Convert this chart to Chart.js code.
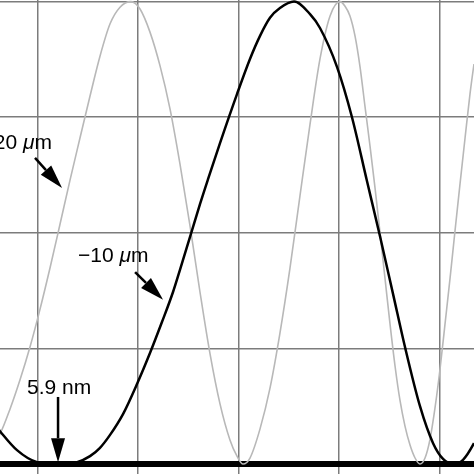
<!DOCTYPE html>
<html>
<head>
<meta charset="utf-8">
<script src="https://cdn.jsdelivr.net/npm/chart.js@4/dist/chart.umd.min.js"></script>
<style>
  html, body { margin: 0; padding: 0; background: #fff; }
  #wrap { width: 474px; height: 474px; }
</style>
</head>
<body>
<div id="wrap"><canvas id="chart"></canvas></div>
<script>
'use strict';

// grid positions (arbitrary units across, normalised intensity up)
const xTicks = [0, 100, 200, 300, 400];
const yTicks = [0, 0.25, 0.5, 0.75, 1];

// -20 um profile (light grey)
const grayX = [-71.9, -57.0, -47.0, -37.1, -27.1, -17.2, -7.3, 2.7, 12.6, 22.6, 32.5, 42.4,
  52.4, 62.3, 72.3, 82.2, 93.1, 102.1, 112.0, 122.0, 131.9, 141.8, 151.8, 161.7, 171.7, 181.6,
  191.5, 198.5, 204.5, 211.4, 221.4, 231.3, 241.2, 251.2, 261.1, 271.1, 281.0, 291.0, 300.9,
  305.9, 310.8, 315.8, 320.8, 325.7, 330.7, 335.7, 340.6, 345.6, 350.6, 355.6, 360.5, 365.5,
  370.5, 375.5, 380.4, 385.4, 390.4, 395.3, 400.3, 405.3, 410.3, 415.2, 420.2, 425.2, 430.1,
  434.1, 440.1, 447.1];
const grayY = [0, 0.017, 0.035, 0.065, 0.119, 0.182, 0.253, 0.335, 0.424, 0.519, 0.614, 0.705,
  0.796, 0.882, 0.952, 0.988, 1.0, 0.984, 0.934, 0.861, 0.768, 0.649, 0.515, 0.372, 0.238, 0.130,
  0.052, 0.017, 0, 0.013, 0.076, 0.164, 0.283, 0.424, 0.580, 0.735, 0.876, 0.969, 1.0,
  0.990, 0.969, 0.926, 0.859, 0.774, 0.688, 0.597, 0.502, 0.402, 0.303, 0.212, 0.138, 0.082,
  0.041, 0.013, 0, 0.013, 0.054, 0.121, 0.205, 0.303, 0.402, 0.504, 0.606, 0.705, 0.800,
  0.865, 0.952, 1.0];

// -10 um profile (black)
const blackX = [-52.0, -37.1, -20.2, -0.3, 19.6, 39.5, 52.4, 62.3, 72.3, 85.2, 99.1, 112.0,
  123.9, 134.9, 141.8, 151.8, 161.7, 169.7, 181.6, 198.5, 211.4, 221.4, 231.3, 241.2, 255.2,
  271.1, 281.0, 297.9, 312.8, 327.7, 340.6, 353.6, 365.5, 380.4, 393.4, 403.3, 413.3, 423.2,
  434.1, 445.0];
const blackY = [0.112, 0.071, 0.030, 0.004, 0, 0.004, 0.017, 0.035, 0.063, 0.108, 0.173, 0.240,
  0.307, 0.372, 0.420, 0.491, 0.562, 0.616, 0.694, 0.800, 0.876, 0.926, 0.965, 0.986, 1.0,
  0.973, 0.943, 0.859, 0.750, 0.612, 0.493, 0.368, 0.253, 0.125, 0.045, 0.011, 0, 0.009,
  0.045, 0.097];

// labels with arrows, in data coordinates
const notes = [
  { text: ['\u221220 ', '\u03bc', 'm'], x: 14.6, y: 0.681, align: 'right', from: [-2.3, 0.662], to: [24.6, 0.597] },
  { text: ['\u221210 ', '\u03bc', 'm'], x: 40.5, y: 0.437, align: 'left', from: [97.2, 0.415], to: [125.0, 0.355] },
  { text: ['5.9 nm', '', ''], x: -10.2, y: 0.151, align: 'left', from: [20.6, 0.145], to: [20.6, 0.004] }
];

function toPoints(xs, ys) {
  return xs.map((x, i) => ({ x: x, y: ys[i] }));
}

const FONT = '"Liberation Sans", Arial, sans-serif';

function drawArrow(ctx, x1, y1, x2, y2, head, half) {
  const a = Math.atan2(y2 - y1, x2 - x1);
  const bx = x2 - head * Math.cos(a), by = y2 - head * Math.sin(a);
  ctx.beginPath();
  ctx.moveTo(x1, y1);
  ctx.lineTo(bx, by);
  ctx.lineWidth = 2.5;
  ctx.stroke();
  ctx.beginPath();
  ctx.moveTo(x2, y2);
  ctx.lineTo(bx + half * Math.sin(a), by - half * Math.cos(a));
  ctx.lineTo(bx - half * Math.sin(a), by + half * Math.cos(a));
  ctx.closePath();
  ctx.fill();
}

const notesPlugin = {
  id: 'notes',
  afterDraw(chart) {
    const ctx = chart.ctx, xs = chart.scales.x, ys = chart.scales.y;
    ctx.save();
    ctx.fillStyle = '#000';
    ctx.strokeStyle = '#000';
    ctx.textBaseline = 'alphabetic';
    ctx.textAlign = 'left';
    notes.forEach(n => {
      const fonts = ['21px ' + FONT, 'italic 21px ' + FONT, '21px ' + FONT];
      let widths = n.text.map((t, i) => { ctx.font = fonts[i]; return ctx.measureText(t).width; });
      let total = widths.reduce((s, w) => s + w, 0);
      let px = xs.getPixelForValue(n.x);
      const py = ys.getPixelForValue(n.y);
      if (n.align === 'right') px -= total;
      n.text.forEach((t, i) => {
        ctx.font = fonts[i];
        ctx.fillText(t, px, py);
        px += widths[i];
      });
      drawArrow(ctx,
        xs.getPixelForValue(n.from[0]), ys.getPixelForValue(n.from[1]),
        xs.getPixelForValue(n.to[0]), ys.getPixelForValue(n.to[1]), 24, 7);
    });
    ctx.restore();
  }
};

function setTicks(list) {
  return scale => { scale.ticks = list.map(v => ({ value: v })); };
}

new Chart(document.getElementById('chart'), {
  type: 'line',
  data: {
    datasets: [
      {
        label: '-10 um',
        data: toPoints(blackX, blackY),
        borderColor: '#000',
        borderWidth: 2.5,
        pointRadius: 0,
        cubicInterpolationMode: 'monotone',
        order: 0
      },
      {
        label: '-20 um',
        data: toPoints(grayX, grayY),
        borderColor: '#b8b8b8',
        borderWidth: 1.6,
        pointRadius: 0,
        cubicInterpolationMode: 'monotone',
        order: 1
      }
    ]
  },
  options: {
    responsive: true,
    maintainAspectRatio: false,
    animation: false,
    layout: { padding: 0 },
    plugins: { legend: { display: false }, tooltip: { enabled: false } },
    scales: {
      x: {
        type: 'linear',
        min: -37.1,
        max: 434.1,
        afterBuildTicks: setTicks(xTicks),
        ticks: { display: false },
        border: { display: false },
        grid: { color: '#7c7c7c', lineWidth: 1.5, drawTicks: false }
      },
      y: {
        type: 'linear',
        min: -0.0216,
        max: 1.0035,
        afterBuildTicks: setTicks(yTicks),
        ticks: { display: false },
        border: { display: false },
        grid: {
          color: c => (c.tick && c.tick.value === 0 ? '#000' : '#7c7c7c'),
          lineWidth: c => (c.tick && c.tick.value === 0 ? 6 : 1.5),
          drawTicks: false
        }
      }
    }
  },
  plugins: [notesPlugin]
});
</script>
</body>
</html>
